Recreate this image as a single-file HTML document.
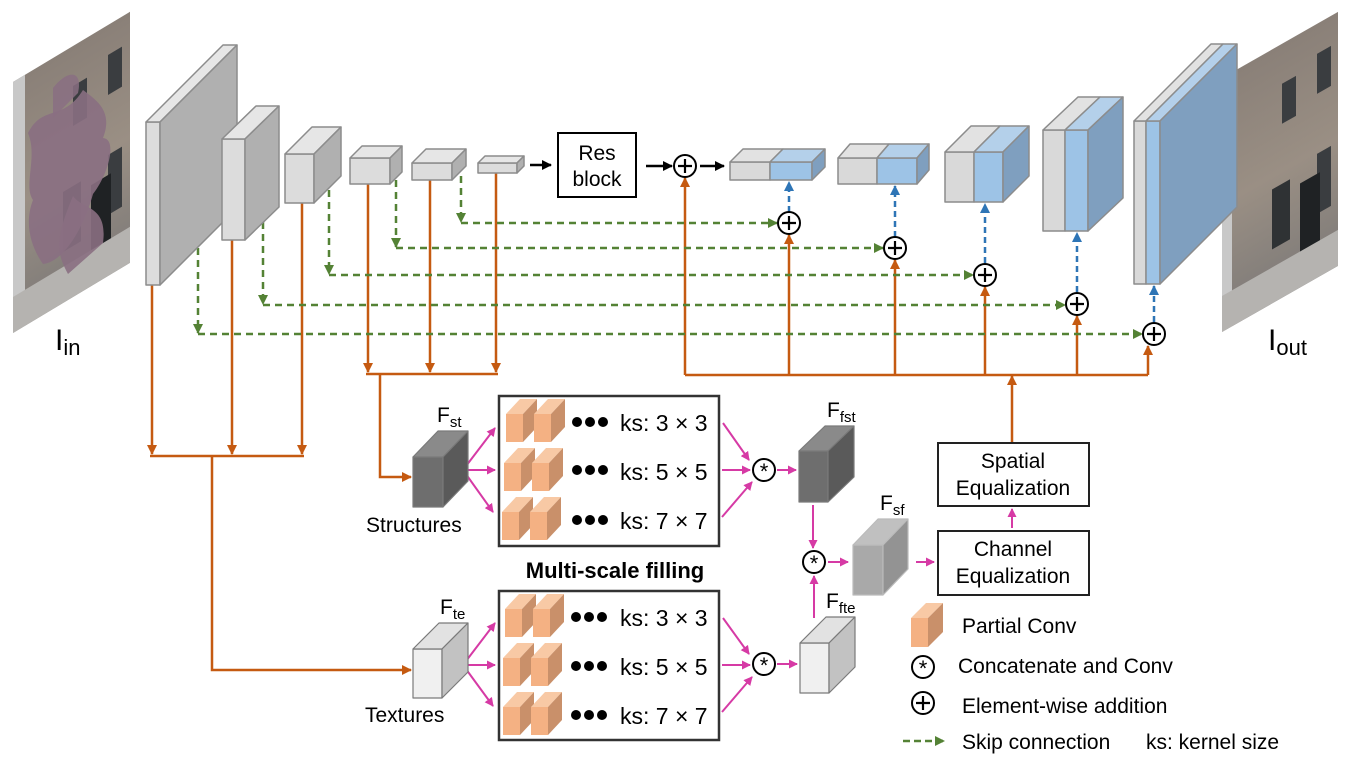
<!DOCTYPE html>
<html><head><meta charset="utf-8"><style>
body{margin:0;background:#fff}
svg{display:block}
text{font-family:"Liberation Sans",sans-serif;fill:#000}
</style></head><body>
<svg width="1348" height="765" viewBox="0 0 1348 765" xmlns="http://www.w3.org/2000/svg">
<defs>
<marker id="ao" markerWidth="10" markerHeight="10" refX="9" refY="5" orient="auto" markerUnits="userSpaceOnUse"><path d="M0,0 L10,5 L0,10 z" fill="#c55a11"/></marker>
<marker id="ag" markerWidth="10" markerHeight="10" refX="9" refY="5" orient="auto" markerUnits="userSpaceOnUse"><path d="M0,0 L10,5 L0,10 z" fill="#548235"/></marker>
<marker id="ab" markerWidth="10" markerHeight="10" refX="9" refY="5" orient="auto" markerUnits="userSpaceOnUse"><path d="M0,0 L10,5 L0,10 z" fill="#2e75b6"/></marker>
<marker id="ap" markerWidth="9" markerHeight="9" refX="8" refY="4.5" orient="auto" markerUnits="userSpaceOnUse"><path d="M0,0 L9,4.5 L0,9 z" fill="#d63aa5"/></marker>
<marker id="ak" markerWidth="10" markerHeight="10" refX="9" refY="5" orient="auto" markerUnits="userSpaceOnUse"><path d="M0,0 L10,5 L0,10 z" fill="#000"/></marker>
<linearGradient id="bld" x1="0" y1="0" x2="0" y2="1"><stop offset="0" stop-color="#8a8078"/><stop offset="0.5" stop-color="#9a8f84"/><stop offset="1" stop-color="#7d7a78"/></linearGradient>
<g id="oc"><rect x="0" y="15" width="17" height="28" fill="#f4b183"/><polygon points="0,15 14,0 31,0 17,15" fill="#f8c9a5"/><polygon points="17,15 31,0 31,28 17,43" fill="#c9906a"/></g>
<g id="op"><use href="#oc"/><use href="#oc" x="28"/></g>
<g id="bs"><circle cx="0" cy="0" r="11" fill="#fff" stroke="#000" stroke-width="2"/><text x="0" y="9" font-size="22" text-anchor="middle">*</text></g>
<g id="bp"><circle cx="0" cy="0" r="11" fill="#fff" stroke="#000" stroke-width="2"/><path d="M-7,0 H7 M0,-7 V7" stroke="#000" stroke-width="2.2"/></g>
</defs>

<g transform="matrix(1,-0.6,0,1,13,82)">
<rect x="0" y="0" width="117" height="251" fill="url(#bld)"/>
<rect x="0" y="0" width="12" height="251" fill="#c8c8c8"/>
<rect x="60" y="40" width="14" height="40" fill="#3a3d40"/><rect x="95" y="30" width="14" height="40" fill="#3a3d40"/>
<rect x="50" y="140" width="18" height="60" fill="#2f3234"/><rect x="95" y="130" width="14" height="60" fill="#3a3d40"/>
<rect x="78" y="150" width="20" height="90" fill="#1f2224"/>
<rect x="0" y="215" width="117" height="36" fill="#b5b3b0"/>
<path d="M15,60 C30,40 50,70 70,50 C85,70 100,90 90,110 C105,120 95,150 80,160 C70,190 50,210 30,200 C20,180 10,150 20,130 C10,110 25,90 15,60 z" fill="#8a6f82" opacity="0.9"/>
<path d="M60,150 C70,170 95,180 90,215 L55,225 C45,200 40,185 60,150z" fill="#8a6f82" opacity="0.9"/>
<path d="M40,30 C55,20 70,30 65,50 L40,60z" fill="#8a6f82" opacity="0.85"/>
</g>
<text x="55" y="350" font-size="30">I<tspan font-size="22" dy="5">in</tspan></text>
<g transform="matrix(1,-0.57,0,1,1222,78)">
<rect x="0" y="0" width="116" height="254" fill="url(#bld)"/>
<rect x="0" y="0" width="10" height="254" fill="#c8c8c8"/>
<rect x="60" y="40" width="14" height="40" fill="#3a3d40"/><rect x="95" y="30" width="14" height="40" fill="#3a3d40"/>
<rect x="50" y="140" width="18" height="60" fill="#2f3234"/><rect x="95" y="130" width="14" height="60" fill="#3a3d40"/>
<rect x="78" y="150" width="20" height="90" fill="#1f2224"/>
<rect x="0" y="218" width="116" height="36" fill="#b5b3b0"/>
</g>
<text x="1268" y="350" font-size="30">I<tspan font-size="22" dy="5">out</tspan></text>

<g stroke="#c55a11" stroke-width="2.5" fill="none">
<line x1="152" y1="285" x2="152" y2="454" marker-end="url(#ao)"/>
<line x1="232" y1="240" x2="232" y2="454" marker-end="url(#ao)"/>
<line x1="302" y1="203" x2="302" y2="454" marker-end="url(#ao)"/>
<line x1="150" y1="456" x2="304" y2="456"/>
<polyline points="212,456 212,670 411,670" marker-end="url(#ao)"/>
<line x1="368" y1="184" x2="368" y2="372" marker-end="url(#ao)"/>
<line x1="430" y1="180" x2="430" y2="372" marker-end="url(#ao)"/>
<line x1="496" y1="173" x2="496" y2="372" marker-end="url(#ao)"/>
<line x1="366" y1="374" x2="498" y2="374"/>
<polyline points="380,374 380,477 411,477" marker-end="url(#ao)"/>
<line x1="685" y1="375" x2="1148" y2="375"/>
<line x1="685" y1="375" x2="685" y2="178" marker-end="url(#ao)"/>
<line x1="789" y1="375" x2="789" y2="235" marker-end="url(#ao)"/>
<line x1="895" y1="375" x2="895" y2="260" marker-end="url(#ao)"/>
<line x1="985" y1="375" x2="985" y2="287" marker-end="url(#ao)"/>
<line x1="1077" y1="375" x2="1077" y2="316" marker-end="url(#ao)"/>
<line x1="1148" y1="375" x2="1148" y2="346" marker-end="url(#ao)"/>
<line x1="1012" y1="443" x2="1012" y2="376" marker-end="url(#ao)"/>
</g>

<g stroke="#548235" stroke-width="2.5" fill="none" stroke-dasharray="7,5">
<line x1="461" y1="176" x2="461" y2="222" marker-end="url(#ag)"/>
<line x1="461" y1="223" x2="777" y2="223" marker-end="url(#ag)"/>
<line x1="396" y1="180" x2="396" y2="247" marker-end="url(#ag)"/>
<line x1="396" y1="248" x2="883" y2="248" marker-end="url(#ag)"/>
<line x1="329" y1="190" x2="329" y2="274" marker-end="url(#ag)"/>
<line x1="329" y1="275" x2="973" y2="275" marker-end="url(#ag)"/>
<line x1="263" y1="222" x2="263" y2="304" marker-end="url(#ag)"/>
<line x1="263" y1="305" x2="1065" y2="305" marker-end="url(#ag)"/>
<line x1="198" y1="248" x2="198" y2="333" marker-end="url(#ag)"/>
<line x1="198" y1="334" x2="1142" y2="334" marker-end="url(#ag)"/>
</g>
<g stroke="#2e75b6" stroke-width="2.5" fill="none" stroke-dasharray="6,4">
<line x1="789" y1="212" x2="789" y2="182" marker-end="url(#ab)"/>
<line x1="895" y1="237" x2="895" y2="186" marker-end="url(#ab)"/>
<line x1="985" y1="263" x2="985" y2="204" marker-end="url(#ab)"/>
<line x1="1077" y1="292" x2="1077" y2="233" marker-end="url(#ab)"/>
<line x1="1154" y1="322" x2="1154" y2="286" marker-end="url(#ab)"/>
</g>

<g stroke="#8c8c8c" stroke-width="1.5" stroke-linejoin="round">
<rect x="146" y="122" width="14" height="163" fill="#dcdcdc"/><polygon points="146,122 223,45 237,45 160,122" fill="#e6e6e6"/><polygon points="160,122 237,45 237,208 160,285" fill="#b0b0b0"/>
<rect x="222" y="139" width="23" height="101" fill="#dcdcdc"/><polygon points="222,139 256,106 279,106 245,139" fill="#e6e6e6"/><polygon points="245,139 279,106 279,207 245,240" fill="#b0b0b0"/>
<rect x="285" y="154" width="29" height="49" fill="#dcdcdc"/><polygon points="285,154 312,127 341,127 314,154" fill="#e6e6e6"/><polygon points="314,154 341,127 341,176 314,203" fill="#b0b0b0"/>
<rect x="350" y="158" width="40" height="26" fill="#dcdcdc"/><polygon points="350,158 362,146 402,146 390,158" fill="#e6e6e6"/><polygon points="390,158 402,146 402,172 390,184" fill="#b0b0b0"/>
<rect x="412" y="163" width="40" height="17" fill="#dcdcdc"/><polygon points="412,163 426,149 466,149 452,163" fill="#e6e6e6"/><polygon points="452,163 466,149 466,166 452,180" fill="#b0b0b0"/>
<rect x="478" y="163" width="39" height="10" fill="#dcdcdc"/><polygon points="478,163 485,156 524,156 517,163" fill="#e6e6e6"/><polygon points="517,163 524,156 524,166 517,173" fill="#b0b0b0"/>
</g>
<g stroke="#8c8c8c" stroke-width="1.5" stroke-linejoin="round">
<rect x="730" y="162" width="40" height="18" fill="#d9d9d9"/><rect x="770" y="162" width="42" height="18" fill="#9dc3e6"/><polygon points="730,162 743,149 783,149 770,162" fill="#e2e2e2"/><polygon points="770,162 783,149 825,149 812,162" fill="#b4d0ea"/><polygon points="812,162 825,149 825,167 812,180" fill="#7f9fbf"/>
<rect x="838" y="158" width="39" height="26" fill="#d9d9d9"/><rect x="877" y="158" width="40" height="26" fill="#9dc3e6"/><polygon points="838,158 850,144 889,144 877,158" fill="#e2e2e2"/><polygon points="877,158 889,144 929,144 917,158" fill="#b4d0ea"/><polygon points="917,158 929,144 929,170 917,184" fill="#7f9fbf"/>
<rect x="945" y="152" width="29" height="50" fill="#d9d9d9"/><rect x="974" y="152" width="29" height="50" fill="#9dc3e6"/><polygon points="945,152 971,126 1000,126 974,152" fill="#e2e2e2"/><polygon points="974,152 1000,126 1029,126 1003,152" fill="#b4d0ea"/><polygon points="1003,152 1029,126 1029,176 1003,202" fill="#7f9fbf"/>
<rect x="1043" y="130" width="22" height="101" fill="#d9d9d9"/><rect x="1065" y="130" width="23" height="101" fill="#9dc3e6"/><polygon points="1043,130 1078,97 1100,97 1065,130" fill="#e2e2e2"/><polygon points="1065,130 1100,97 1123,97 1088,130" fill="#b4d0ea"/><polygon points="1088,130 1123,97 1123,198 1088,231" fill="#7f9fbf"/>
<rect x="1134" y="121" width="12" height="163" fill="#d9d9d9"/><rect x="1146" y="121" width="14" height="163" fill="#9dc3e6"/><polygon points="1134,121 1211,44 1223,44 1146,121" fill="#e2e2e2"/><polygon points="1146,121 1223,44 1237,44 1160,121" fill="#b4d0ea"/><polygon points="1160,121 1237,44 1237,207 1160,284" fill="#7f9fbf"/>
</g>

<g stroke="#000" stroke-width="2.5" fill="none">
<line x1="530" y1="165" x2="551" y2="165" marker-end="url(#ak)"/>
<line x1="646" y1="166" x2="672" y2="166" marker-end="url(#ak)"/>
<line x1="700" y1="166" x2="724" y2="166" marker-end="url(#ak)"/>
</g>
<rect x="558" y="133" width="78" height="64" fill="#fff" stroke="#000" stroke-width="2"/>
<text x="597" y="160" font-size="21" text-anchor="middle">Res</text>
<text x="597" y="186" font-size="21" text-anchor="middle">block</text>
<use href="#bp" x="685" y="166"/>
<use href="#bp" x="789" y="223"/>
<use href="#bp" x="895" y="248"/>
<use href="#bp" x="985" y="275"/>
<use href="#bp" x="1077" y="304"/>
<use href="#bp" x="1154" y="334"/>

<rect x="499" y="396" width="220" height="150" fill="#fff" stroke="#333" stroke-width="2.5"/>
<rect x="499" y="591" width="220" height="149" fill="#fff" stroke="#333" stroke-width="2.5"/>
<use href="#op" x="506" y="399"/><use href="#op" x="504" y="448"/><use href="#op" x="502" y="497"/>
<use href="#op" x="505" y="594"/><use href="#op" x="503" y="643"/><use href="#op" x="503" y="692"/>
<g fill="#000">
<circle cx="577" cy="422" r="5"/><circle cx="590" cy="422" r="5"/><circle cx="603" cy="422" r="5"/>
<circle cx="577" cy="470" r="5"/><circle cx="590" cy="470" r="5"/><circle cx="603" cy="470" r="5"/>
<circle cx="577" cy="520" r="5"/><circle cx="590" cy="520" r="5"/><circle cx="603" cy="520" r="5"/>
<circle cx="576" cy="617" r="5"/><circle cx="589" cy="617" r="5"/><circle cx="602" cy="617" r="5"/>
<circle cx="576" cy="666" r="5"/><circle cx="589" cy="666" r="5"/><circle cx="602" cy="666" r="5"/>
<circle cx="576" cy="715" r="5"/><circle cx="589" cy="715" r="5"/><circle cx="602" cy="715" r="5"/>
</g>
<g font-size="23">
<text x="620" y="431">ks: 3 × 3</text><text x="620" y="480">ks: 5 × 5</text><text x="620" y="529">ks: 7 × 7</text>
<text x="620" y="626">ks: 3 × 3</text><text x="620" y="675">ks: 5 × 5</text><text x="620" y="724">ks: 7 × 7</text>
</g>
<text x="615" y="578" font-size="22" font-weight="bold" text-anchor="middle">Multi-scale filling</text>

<g stroke="#d63aa5" stroke-width="2" fill="none">
<line x1="463" y1="470" x2="495" y2="428" marker-end="url(#ap)"/>
<line x1="463" y1="470" x2="495" y2="470" marker-end="url(#ap)"/>
<line x1="463" y1="470" x2="493" y2="512" marker-end="url(#ap)"/>
<line x1="463" y1="665" x2="495" y2="623" marker-end="url(#ap)"/>
<line x1="463" y1="665" x2="495" y2="665" marker-end="url(#ap)"/>
<line x1="463" y1="665" x2="493" y2="706" marker-end="url(#ap)"/>
<line x1="723" y1="423" x2="749" y2="460" marker-end="url(#ap)"/>
<line x1="722" y1="470" x2="750" y2="470" marker-end="url(#ap)"/>
<line x1="722" y1="517" x2="752" y2="482" marker-end="url(#ap)"/>
<line x1="723" y1="618" x2="749" y2="654" marker-end="url(#ap)"/>
<line x1="722" y1="665" x2="750" y2="665" marker-end="url(#ap)"/>
<line x1="722" y1="712" x2="752" y2="677" marker-end="url(#ap)"/>
<line x1="777" y1="470" x2="796" y2="470" marker-end="url(#ap)"/>
<line x1="777" y1="664" x2="797" y2="664" marker-end="url(#ap)"/>
<line x1="813" y1="505" x2="813" y2="548" marker-end="url(#ap)"/>
<line x1="814" y1="618" x2="814" y2="576" marker-end="url(#ap)"/>
<line x1="828" y1="562" x2="848" y2="562" marker-end="url(#ap)"/>
<line x1="916" y1="562" x2="934" y2="562" marker-end="url(#ap)"/>
<line x1="1012" y1="528" x2="1012" y2="509" marker-end="url(#ap)"/>
</g>
<use href="#bs" x="764" y="470"/><use href="#bs" x="764" y="664"/><use href="#bs" x="814" y="562"/>

<g stroke="#7a7a7a" stroke-width="1.2" stroke-linejoin="round">
<rect x="413" y="457" width="30" height="50" fill="#6e6e6e"/><polygon points="413,457 438,431 468,431 443,457" fill="#8a8a8a"/><polygon points="443,457 468,431 468,481 443,507" fill="#5a5a5a"/>
<rect x="799" y="451" width="29" height="51" fill="#6e6e6e"/><polygon points="799,451 825,426 854,426 828,451" fill="#8a8a8a"/><polygon points="828,451 854,426 854,477 828,502" fill="#5a5a5a"/>
<rect x="853" y="545" width="30" height="50" fill="#a9a9a9" stroke="#bbb"/><polygon points="853,545 878,519 908,519 883,545" fill="#c0c0c0" stroke="#bbb"/><polygon points="883,545 908,519 908,569 883,595" fill="#939393" stroke="#bbb"/>
<rect x="413" y="649" width="29" height="49" fill="#f0f0f0"/><polygon points="413,649 439,623 468,623 442,649" fill="#e2e2e2"/><polygon points="442,649 468,623 468,672 442,698" fill="#c2c2c2"/>
<rect x="800" y="643" width="29" height="50" fill="#f0f0f0"/><polygon points="800,643 826,617 855,617 829,643" fill="#e2e2e2"/><polygon points="829,643 855,617 855,667 829,693" fill="#c2c2c2"/>
</g>
<g font-size="21">
<text x="437" y="422">F<tspan font-size="15" dy="5">st</tspan></text>
<text x="827" y="417">F<tspan font-size="15" dy="5">fst</tspan></text>
<text x="880" y="510">F<tspan font-size="15" dy="5">sf</tspan></text>
<text x="440" y="614">F<tspan font-size="15" dy="5">te</tspan></text>
<text x="826" y="608">F<tspan font-size="15" dy="5">fte</tspan></text>
<text x="366" y="532">Structures</text>
<text x="365" y="722">Textures</text>
</g>

<rect x="938" y="443" width="151" height="63" fill="#fff" stroke="#222" stroke-width="2"/>
<rect x="938" y="531" width="151" height="64" fill="#fff" stroke="#222" stroke-width="2"/>
<g font-size="21" text-anchor="middle">
<text x="1013" y="468">Spatial</text><text x="1013" y="495">Equalization</text>
<text x="1013" y="556">Channel</text><text x="1013" y="583">Equalization</text>
</g>

<g><rect x="911" y="618" width="17" height="29" fill="#f4b183"/><polygon points="911,618 926,603 943,603 928,618" fill="#f8c9a5"/><polygon points="928,618 943,603 943,632 928,647" fill="#c9906a"/></g>
<use href="#bs" x="923" y="667"/>
<use href="#bp" x="923" y="703"/>
<line x1="903" y1="741" x2="944" y2="741" stroke="#548235" stroke-width="2.5" stroke-dasharray="7,4" marker-end="url(#ag)"/>
<g font-size="21">
<text x="962" y="633">Partial Conv</text>
<text x="958" y="673">Concatenate and Conv</text>
<text x="962" y="713">Element-wise addition</text>
<text x="962" y="749">Skip connection</text>
<text x="1146" y="749">ks: kernel size</text>
</g>
</svg>
</body></html>
